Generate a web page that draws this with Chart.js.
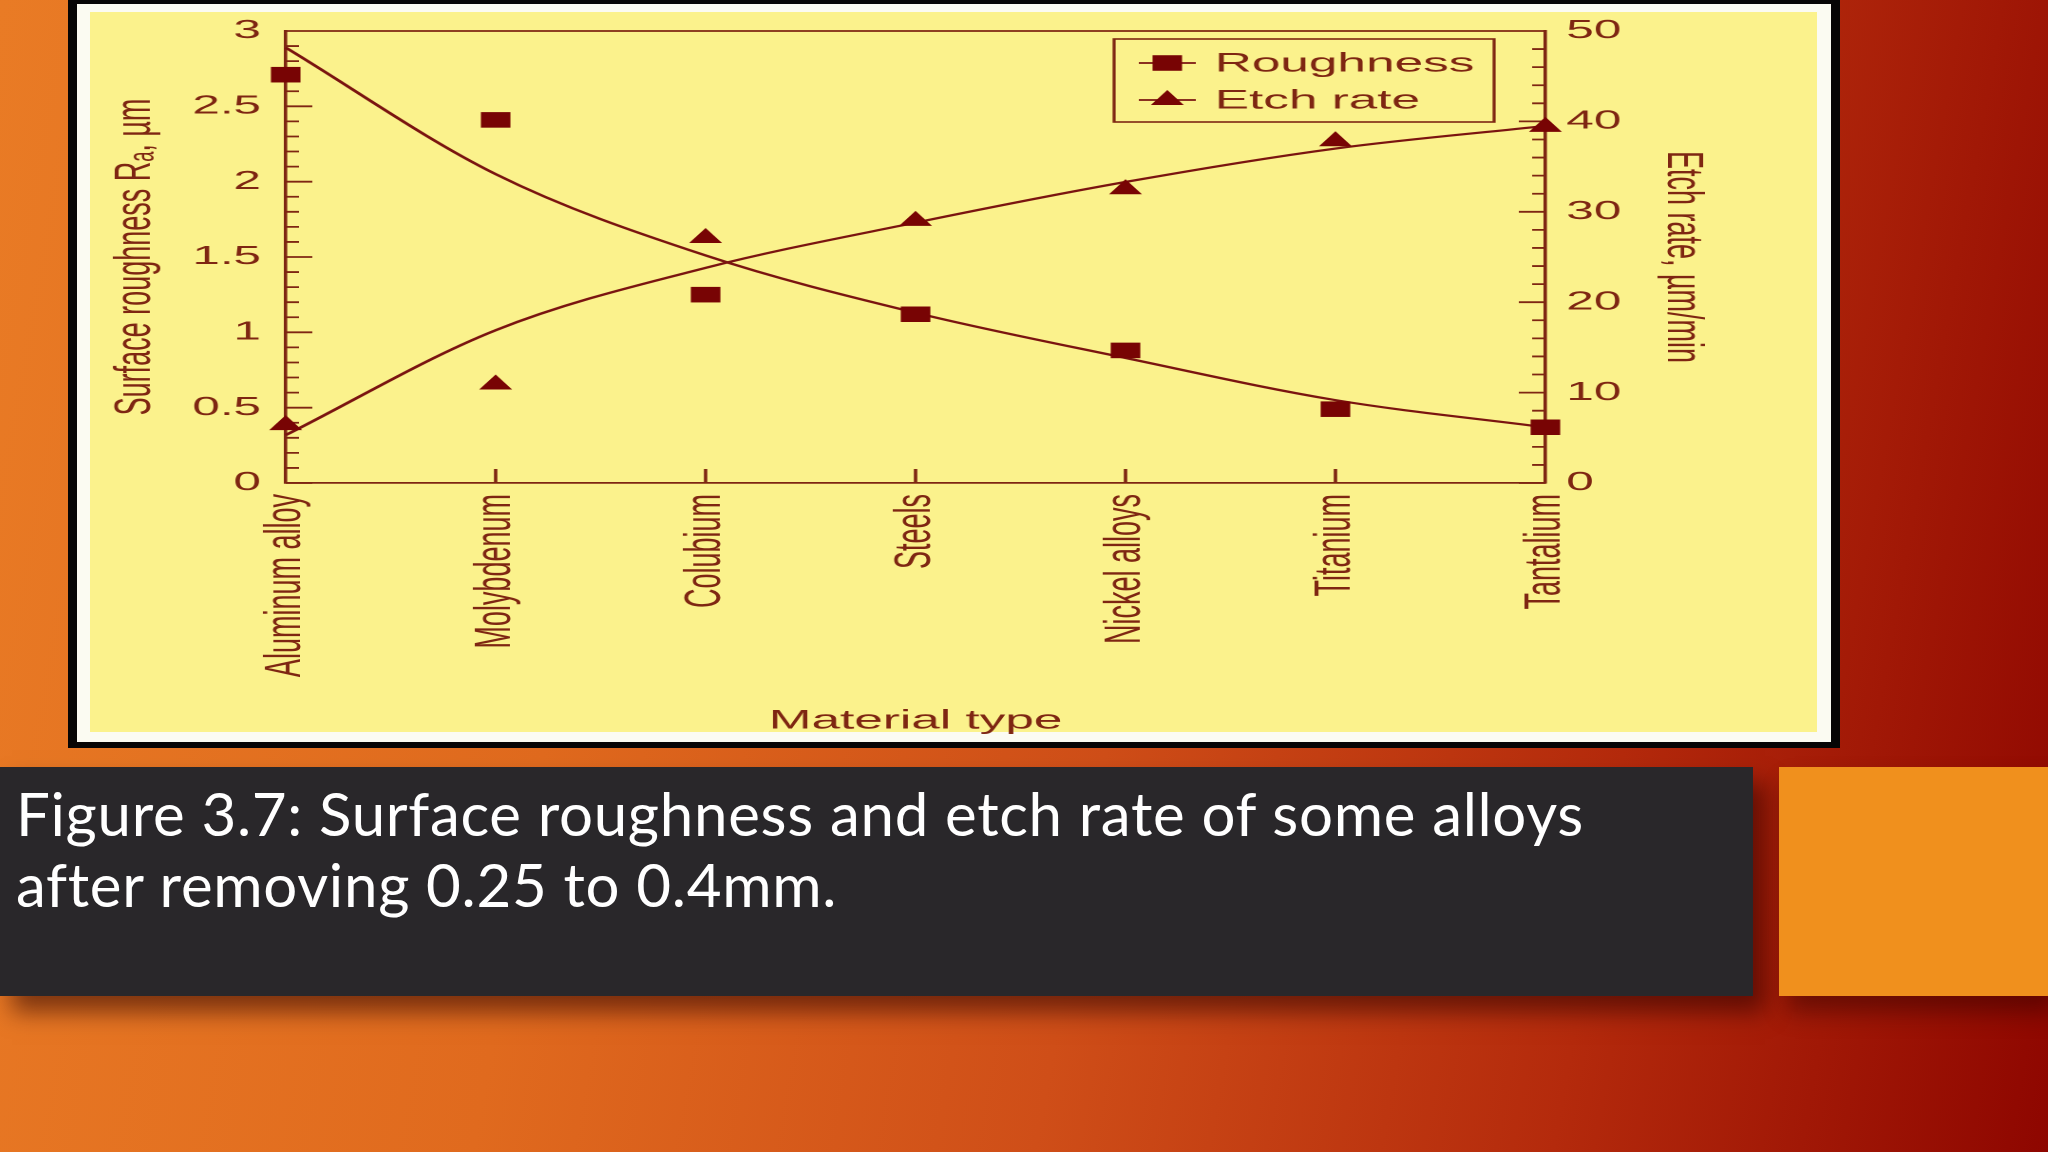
<!DOCTYPE html>
<html>
<head>
<meta charset="utf-8">
<script src="https://cdn.jsdelivr.net/npm/chart.js@4/dist/chart.umd.min.js"></script>
<style>
html, body { margin: 0; padding: 0; }
body {
	width: 2048px; height: 1152px; overflow: hidden; position: relative;
	background: linear-gradient(100deg, #e97b25 0%, #e06a1e 30%, #cf4e18 55%, #b42a0c 78%, #8e0600 100%);
}
#frame { position: absolute; left: 68px; top: -4px; width: 1772px; height: 752px; background: #060505; }
#mat { position: absolute; left: 77px; top: 4px; width: 1754px; height: 738px; background: #fbfbf2; }
#paper { position: absolute; left: 90px; top: 12px; width: 1727px; height: 720px; background: #fbf28c; }
#plot { position: absolute; left: 90px; top: 13px; width: 909px; height: 727px; transform: scaleX(1.9); transform-origin: 0 0; }
#caption {
	position: absolute; left: 0; top: 767px; width: 1753px; height: 229px;
	background: #29272a; box-shadow: 12px 16px 22px rgba(40, 0, 0, .55);
}
#caption p {
	margin: 0; position: absolute; left: 16px; top: 11px;
	color: #fff; font-family: Lato, 'Open Sans', sans-serif; font-size: 60px; line-height: 71px;
	letter-spacing: 0.7px;
}
#accent {
	position: absolute; left: 1779px; top: 767px; width: 269px; height: 229px;
	background: #f0901d; box-shadow: 8px 16px 22px rgba(40, 0, 0, .45);
}
</style>
</head>
<body>
<div id="frame"></div>
<div id="mat"></div>
<div id="paper"></div>
<div id="plot"><canvas id="chart1" width="909" height="727"></canvas></div>
<div id="caption"><p>Figure 3.7: Surface roughness and etch rate of some alloys<br>after removing 0.25 to 0.4mm.</p></div>
<div id="accent"></div>
<script>
'use strict'

const categories = ['Aluminum alloy', 'Molybdenum', 'Colubium', 'Steels', 'Nickel alloys', 'Titanium', 'Tantalium']
const roughness = [2.71, 2.41, 1.25, 1.12, 0.88, 0.49, 0.37]
const etchRate = [6.4, 10.9, 27.1, 29.0, 32.5, 37.8, 39.4]
const roughnessFit = [2.89, 2.05, 1.51, 1.13, 0.83, 0.55, 0.37]
const etchRateFit = [5.3, 16.9, 23.8, 28.8, 33.3, 37.0, 39.5]

const INK = '#7e2612'
const LINE = '#7a1410'
const MARK = '#780404'
const FONT = 'Liberation Sans, Arial, sans-serif'

// inward ticks on all axes plus the top edge of the box
const frameTicks = {
	id: 'frameTicks',
	beforeDatasetsDraw(chart) {
		const {ctx, chartArea: a, scales} = chart
		ctx.save()
		ctx.strokeStyle = INK
		ctx.lineWidth = 1.8
		ctx.beginPath()
		ctx.moveTo(a.left, a.top)
		ctx.lineTo(a.right, a.top)
		for (let i = 0; i <= 30; i++) {
			const y = scales.y.getPixelForValue(i / 10)
			ctx.moveTo(a.left, y)
			ctx.lineTo(a.left + (i % 5 === 0 ? 14 : 7), y)
		}
		for (let v = 0; v <= 50; v += 2) {
			const y = scales.y2.getPixelForValue(v)
			ctx.moveTo(a.right, y)
			ctx.lineTo(a.right - (v % 10 === 0 ? 14 : 7), y)
		}
		categories.forEach((c, i) => {
			if (i === 0 || i === categories.length - 1) return
			const x = scales.x.getPixelForValue(i)
			ctx.moveTo(x, a.bottom)
			ctx.lineTo(x, a.bottom - 14)
		})
		ctx.stroke()
		ctx.restore()
	}
}

// boxed legend inside the plot, top right
const boxLegend = {
	id: 'boxLegend',
	afterDatasetsDraw(chart) {
		const {ctx, chartArea: a} = chart
		const left = a.right - 227, right = a.right - 27
		const top = a.top + 8, bottom = a.top + 91
		ctx.save()
		ctx.strokeStyle = INK
		ctx.lineWidth = 1.6
		ctx.strokeRect(left, top, right - left, bottom - top)
		const items = chart.data.datasets.filter(d => d.inLegend)
		items.forEach((ds, i) => {
			const y = top + 24 + i * 37
			ctx.strokeStyle = LINE
			ctx.lineWidth = 1.8
			ctx.beginPath()
			ctx.moveTo(left + 13, y)
			ctx.lineTo(left + 43, y)
			ctx.stroke()
			ctx.fillStyle = MARK
			Chart.helpers.drawPoint(ctx, {pointStyle: ds.pointStyle, radius: ds.pointRadius, borderWidth: 0, rotation: 0}, left + 28, y)
			ctx.fillStyle = INK
			ctx.font = '27px ' + FONT
			ctx.textBaseline = 'middle'
			ctx.textAlign = 'left'
			ctx.fillText(ds.label, left + 53, y + 1)
		})
		ctx.restore()
	}
}

// fixed axis boxes, no extra label padding
const fixY = w => s => { s.width = w; s.paddingTop = 0; s.paddingBottom = 0 }

const ctx = document.getElementById('chart1').getContext('2d')
new Chart(ctx, {
	type: 'line',
	data: {
		labels: categories,
		datasets: [
			{
				label: 'Roughness',
				inLegend: true,
				data: roughness,
				yAxisID: 'y',
				showLine: false,
				pointStyle: 'rect',
				pointRadius: 11,
				pointBackgroundColor: MARK,
				pointBorderWidth: 0,
				clip: false
			},
			{
				label: 'Etch rate',
				inLegend: true,
				data: etchRate,
				yAxisID: 'y2',
				showLine: false,
				pointStyle: 'triangle',
				pointRadius: 10,
				pointBackgroundColor: MARK,
				pointBorderWidth: 0,
				clip: false
			},
			{
				label: 'Roughness fit',
				data: roughnessFit,
				yAxisID: 'y',
				borderColor: LINE,
				borderWidth: 2.2,
				pointRadius: 0,
				cubicInterpolationMode: 'monotone',
				clip: false
			},
			{
				label: 'Etch rate fit',
				data: etchRateFit,
				yAxisID: 'y2',
				borderColor: LINE,
				borderWidth: 2.2,
				pointRadius: 0,
				cubicInterpolationMode: 'monotone',
				clip: false
			}
		]
	},
	options: {
		responsive: false,
		animation: false,
		devicePixelRatio: 2,
		layout: {autoPadding: false, padding: {top: 18, left: 0, right: 0, bottom: 0}},
		plugins: {
			legend: {display: false},
			tooltip: {enabled: false}
		},
		scales: {
			x: {
				type: 'category',
				offset: false,
				grid: {display: false, drawTicks: false},
				border: {display: true, color: INK, width: 1.8},
				ticks: {
					autoSkip: false, minRotation: 90, maxRotation: 90, padding: 11,
					color: INK, font: {family: FONT, size: 27}
				},
				title: {
					display: true, text: 'Material type', color: INK,
					font: {family: FONT, size: 27}, padding: {top: 0, bottom: 3}
				},
				afterFit: s => { s.height = 257; s.paddingLeft = 0; s.paddingRight = 0 }
			},
			y: {
				position: 'left',
				min: 0, max: 3,
				grid: {display: false, drawTicks: false},
				border: {display: true, color: INK, width: 1.8},
				ticks: {
					stepSize: 0.5, padding: 13, color: INK,
					font: {family: FONT, size: 26},
					callback: v => String(v)
				},
				title: {
					display: true, text: 'Surface roughness Rₐ, µm', color: INK,
					font: {family: FONT, size: 27}, padding: {top: 8, bottom: 0}
				},
				afterFit: fixY(103)
			},
			y2: {
				position: 'right',
				min: 0, max: 50,
				grid: {display: false, drawTicks: false},
				border: {display: true, color: INK, width: 1.8},
				ticks: {
					stepSize: 10, padding: 11, color: INK,
					font: {family: FONT, size: 26}
				},
				title: {
					display: true, text: 'Etch rate, µm/min', color: INK,
					font: {family: FONT, size: 27}, padding: {top: 55, bottom: 0}
				},
				afterFit: fixY(143)
			}
		}
	},
	plugins: [frameTicks, boxLegend]
})
</script>
</body>
</html>
